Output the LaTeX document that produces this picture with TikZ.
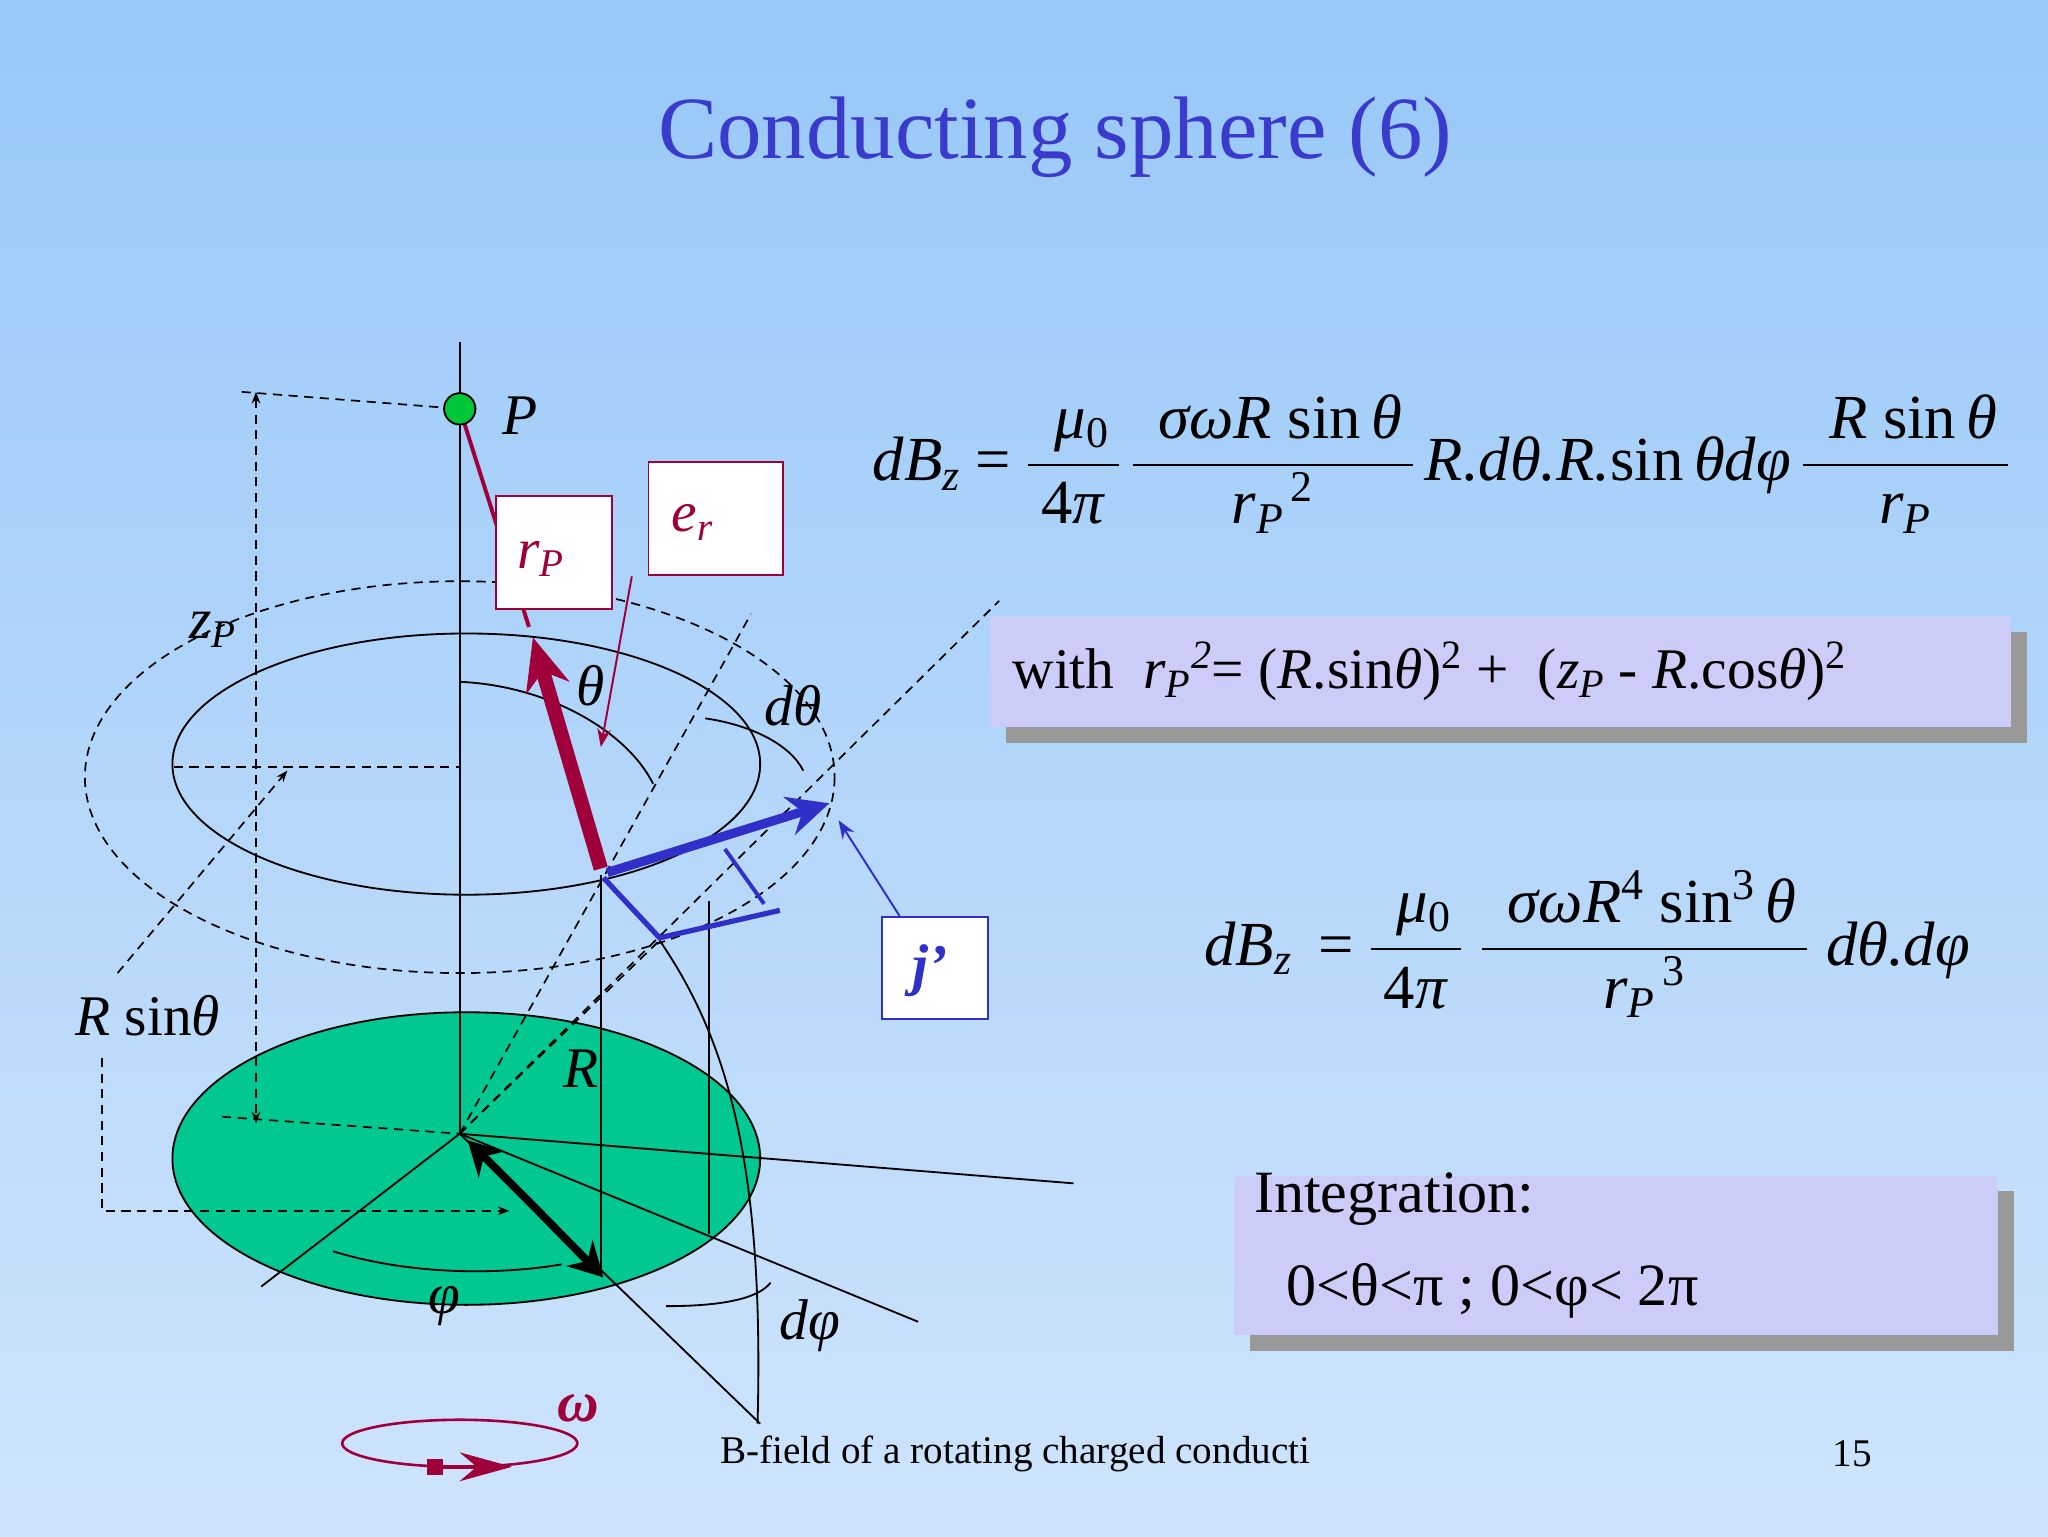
\documentclass[tikz,border=0pt]{standalone}
\usepackage{fix-cm}
\usepackage{amsmath}
\usepackage{fontspec}
\setmainfont{Liberation Serif}
\usetikzlibrary{arrows.meta,calc}
\definecolor{ttl}{HTML}{3A3ACC}
\definecolor{dred}{HTML}{A0003A}
\definecolor{jblue}{HTML}{3030C8}
\definecolor{boxf}{HTML}{CCCCF8}
\definecolor{grn}{HTML}{00C890}
\definecolor{bgt}{HTML}{98C8F8}
\definecolor{bgb}{HTML}{CEE4FC}
\newcommand{\myfr}[2]{\ensuremath{\genfrac{}{}{1.4pt}{0}{\hbox{\strut\, #1\,}}{\hbox{\strut #2}}}}
\newcommand{\ii}[1]{\textit{#1}}
\tikzset{dsh/.style={dash pattern=on 7pt off 5pt,line width=1.3},thin1/.style={line width=1.4},
 lbl/.style={font=\fontsize{44}{48}\selectfont\itshape,inner sep=0},
 eq/.style={font=\fontsize{48}{52}\selectfont,inner sep=0,anchor=west},
 wbox/.style={draw,fill=white,line width=1.5,minimum width=#1}}
\begin{document}
\begin{tikzpicture}[x=1pt,y=-1pt]
\shade[top color=bgt,bottom color=bgb] (0,0) rectangle (1568,1176);
\node[font=\fontsize{68}{72}\selectfont,text=ttl] (title) at (808,105) {Conducting sphere (6)};
% disk
\draw[fill=grn,thin1] (357,887) ellipse [x radius=225,y radius=112];
\coordinate (O) at (352,868);
\draw[thin1] (352,262) -- (O);
\draw[thin1] (357,585) ellipse [x radius=225,y radius=100];
\draw[dsh] (352,595) ellipse [x radius=287,y radius=150];
\draw[dsh] (133,587) -- (352,587);
\draw[dsh] (185,300) -- (352,313);
\draw[dsh,{Stealth}-{Stealth}] (196,300) -- (196,860);
\draw[dsh] (170,855) -- (O);
\draw[dsh,-{Stealth}] (78,810) -- (78,927) -- (390,927);
\draw[dsh,-{Stealth}] (90,745) -- (220,590);
\draw[dsh] (O) -- (765,460);
\draw[dsh] (O) -- (575,470);
\draw[dsh] (O) -- (505,720);
\draw[thin1] (O) -- (822,906);
\draw[thin1] (O) -- (200,985);
\draw[thin1] (O) -- (703,1012);
\draw[thin1] (O) -- (582,1090);
\draw[thin1] (460,670) -- (460,978);
\draw[thin1] (543,690) -- (543,945);
\draw[thin1] (505,720) .. controls (560,800) and (585,900) .. (580,1090);
\draw[thin1] (352,522) .. controls (420,525) and (480,560) .. (500,600);
\draw[thin1] (540,550) .. controls (575,555) and (605,570) .. (615,590);
\draw[thin1] (255,958) .. controls (320,978) and (390,975) .. (430,968);
\draw[thin1] (510,1000) .. controls (550,1000) and (580,995) .. (590,982);
\coordinate (mid) at (410,925);
\draw[line width=6,-{Stealth[length=26,width=28]}] (mid) -- (462,978);
\draw[line width=6,-{Stealth[length=26,width=28]}] (mid) -- (358,873);
% red
\draw[dred,line width=3] (352,313) -- (405,480);
\draw[dred,line width=11,-{Stealth[length=40,width=34]}] (460,665) -- (408,488);
% blue
\draw[jblue,line width=7,-{Stealth[length=32,width=30]}] (465,668) -- (635,615);
\draw[jblue,line width=4] (462,672) -- (505,718) -- (597,697);
\draw[jblue,line width=3] (555,650) -- (585,692);
\draw[fill=green!55!teal,thin1] (352,313) circle (12);
\node[lbl] (P) at (398,318) {P};
% boxes
\node[wbox=89,draw=dred,minimum height=86] (rb) at (424,423) {};
\node[lbl,text=dred] at (414,428) {r\textsubscript{\fontsize{30}{30}\selectfont P}};
\node[wbox=103,draw=dred,minimum height=87] (eb) at (548,397) {};
\node[lbl,text=dred] at (530,400) {e\textsubscript{\fontsize{30}{30}\selectfont r}};
\node[wbox=81,draw=jblue,minimum height=78] (jb) at (716,741) {};
\node[lbl,text=jblue,font=\fontsize{44}{48}\selectfont\bfseries\itshape] at (712,743) {j’};
\coordinate (ea) at (460,572); \coordinate (ja) at (642,628);
\draw[dred,line width=1.5,-{Stealth[length=14]}] ($(eb.south west)+(-12,0)$) -- (ea);
\draw[jblue,line width=1.5,-{Stealth[length=14]}] ($(jb.north west)+(14,0)$) -- (ja);
% labels
\node[lbl] at (163,482) {z\textsubscript{\fontsize{30}{30}\selectfont P}};
\node[lbl] at (452,525) {θ};
\node[lbl] at (607,540) {dθ};
\node[lbl,font=\fontsize{44}{48}\selectfont] at (113,778) {\textit{R} sin\textit{θ}};
\node[lbl] at (445,818) {R};
\node[lbl] at (340,1000) {φ};
\node[lbl] at (620,1015) {dφ};
\node[lbl,text=dred,font=\fontsize{44}{48}\selectfont\bfseries\itshape] at (443,1078) {ω};
\draw[dred,line width=2] (352,1105) ellipse [x radius=90,y radius=18];
\draw[dred,line width=3,-{Stealth[length=40,width=22]}] (330,1123) -- (392,1123);
\fill[dred] (327,1117) rectangle (339,1129);
% equations
\node[eq] (e1) at (668,358) {\ii{dB}\textsubscript{\ii{z}} = \myfr{\ii{μ}\textsubscript{0}}{4\ii{π}}\,\myfr{\ii{σωR} sin\,\ii{θ}}{\ii{r\textsubscript{P}}\textsuperscript{\,2}}\,\ii{R.dθ.R.}sin\,\ii{θdφ}\,\myfr{\ii{R} sin\,\ii{θ}}{\ii{r\textsubscript{P}}}};
\fill[gray!80] (770,484) rectangle (1552,569);
\node[draw=none,fill=boxf,minimum width=782,minimum height=85] (wb) at (1149,514) {};
\node[eq,font=\fontsize{44}{48}\selectfont] at (775,514) {with \ \textit{r\textsubscript{P}}\textsuperscript{\textit{2}}= (\textit{R}.sin\textit{θ})\textsuperscript{2} + \ (\textit{z\textsubscript{P}} - \textit{R}.cos\textit{θ})\textsuperscript{2}};
\node[eq] (e2) at (922,727) {\ii{dB}\textsubscript{\ii{z}} \,= \myfr{\ii{μ}\textsubscript{0}}{4\ii{π}}\;\myfr{\ii{σωR}\textsuperscript{4} sin\textsuperscript{3}\,\ii{θ}}{\ii{r\textsubscript{P}}\textsuperscript{\,3}}\;\ii{dθ.dφ}};
\fill[gray!80] (957,912) rectangle (1542,1034);
\node[fill=boxf,minimum width=585,minimum height=122] (ib) at (1237,961) {};
\node[eq,font=\fontsize{46}{50}\selectfont] at (960,918) {Integration:};
\node[eq,font=\fontsize{46}{50}\selectfont] at (985,988) {0<θ<π ; 0<φ< 2π};
\node[font=\fontsize{30}{33}\selectfont,anchor=west] (ft) at (548,1113) {B-field of a rotating charged conducti};
\node[font=\fontsize{30}{33}\selectfont] (pg) at (1418,1113) {15};
\useasboundingbox (0,0) rectangle (1568,1176);
\end{tikzpicture}
\end{document}
